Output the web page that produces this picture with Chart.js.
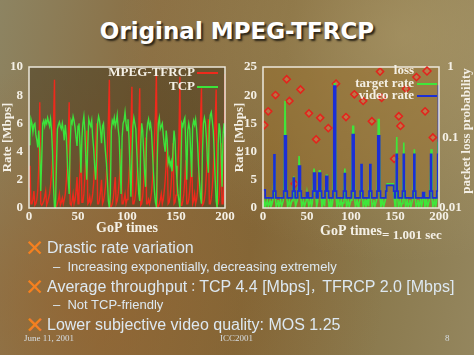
<!DOCTYPE html>
<html>
<head>
<meta charset="utf-8">
<script src="https://cdn.jsdelivr.net/npm/chart.js@4"></script>
<style>
  html, body { margin: 0; padding: 0; }
  body { width: 474px; height: 355px; overflow: hidden; }
  .slide {
    position: relative; width: 474px; height: 355px; overflow: hidden;
    background:
      radial-gradient(ellipse at 15% 85%, rgba(150,95,40,0.55), rgba(150,95,40,0) 55%),
      radial-gradient(ellipse at 85% 10%, rgba(190,170,120,0.45), rgba(190,170,120,0) 50%),
      linear-gradient(100deg, #8d8462 0%, #8a6e42 30%, #80683a 55%, #8b7a4e 80%, #94865e 100%);
    font-family: "Liberation Sans", Arial, "Noto Sans CJK JP", sans-serif;
  }
  canvas { position: absolute; }
  .title {
    position: absolute; left: 0; width: 474px; top: 18px; text-align: center;
    font-family: "DejaVu Sans", sans-serif; font-weight: bold; font-size: 23px;
    color: #ffffff; text-shadow: 2px 2px 2px #2a2418;
  }
  .t { position: absolute; white-space: nowrap; color: #dde8f1; line-height: 1; }
  .x { position: absolute; color: #f5801f; font-family: "DejaVu Sans", sans-serif; font-size: 23px; line-height: 1; }
  .b1 { font-size: 16px; }
  .b2 { font-size: 13px; }
  .cj { font-size: 12px; }
  .foot { position: absolute; font-family: "Liberation Serif", serif; font-size: 9px; color: #d6dde2; line-height: 1; }
  .sec { position: absolute; font-family: "Liberation Serif", serif; font-weight: bold; font-size: 13px; color: #f4f0e6; line-height: 1; }
</style>
</head>
<body>
<div class="slide">
  <div class="title">Original MPEG-TFRCP</div>
  <canvas id="left" width="238" height="190" style="left:0px;top:50px;width:238px;height:190px"></canvas>
  <canvas id="right" width="242" height="190" style="left:232px;top:50px;width:242px;height:190px"></canvas>
  <div class="sec" style="left:382px;top:228px">= 1.001 sec</div>

  <div class="x" style="left:25px;top:237px">✕</div>
  <div class="t b1" style="left:47px;top:240px">Drastic rate variation</div>
  <div class="t b2" style="left:53px;top:260px">–&nbsp; Increasing exponentially, decreasing extremely</div>
  <div class="x" style="left:25px;top:276px">✕</div>
  <div class="t b1" style="left:47px;top:279px">Average throughput<span class="cj">：</span>TCP 4.4 [Mbps]<span class="cj">，</span>TFRCP 2.0 [Mbps]</div>
  <div class="t b2" style="left:53px;top:298px">–&nbsp; Not TCP-friendly</div>
  <div class="x" style="left:25px;top:314px">✕</div>
  <div class="t b1" style="left:47px;top:317px">Lower subjective video quality: MOS 1.25</div>

  <div class="foot" style="left:24px;top:334px">June 11, 2001</div>
  <div class="foot" style="left:220px;top:334px">ICC2001</div>
  <div class="foot" style="left:445px;top:334px">8</div>
</div>
<script>
// left plot: rate per GoP (0..200)
const tfrcpRate = [
  1.5, 3.0, 0.3, 0.3, 0.6, 1.2, 0.2, 0.3, 0.6, 1.3, 3.0, 7.5, 0.3, 0.2, 0.3, 0.5, 0.8, 1.2, 0.2, 0.4,
  0.7, 1.0, 1.6, 2.4, 3.6, 5.8, 9.1, 0.1, 0.1, 0.3, 0.6, 1.0, 0.2, 0.4, 0.7, 0.3, 0.6, 1.0, 1.8, 3.0,
  4.8, 7.5, 0.3, 0.2, 0.5, 1.0, 0.3, 0.6, 1.2, 2.2, 0.3, 1.0, 2.5, 4.5, 0.4, 0.4, 1.0, 2.2, 3.5, 5.5,
  0.3, 0.4, 0.8, 0.3, 0.5, 1.0, 1.8, 3.0, 4.5, 6.0, 0.3, 0.3, 0.6, 1.2, 2.0, 0.3, 0.5, 0.9, 1.5, 2.5,
  4.0, 6.2, 9.1, 0.1, 0.1, 0.3, 0.7, 1.4, 2.2, 0.3, 0.5, 1.0, 1.8, 3.0, 4.2, 0.3, 0.3, 0.6, 1.0, 0.3,
  0.6, 1.2, 2.2, 3.5, 5.5, 8.6, 0.3, 0.3, 0.6, 1.2, 2.2, 3.6, 5.6, 8.5, 0.2, 0.3, 0.8, 1.8, 3.2, 5.0,
  0.3, 0.3, 0.6, 0.3, 0.6, 1.1, 2.0, 3.2, 4.8, 6.6, 9.5, 0.1, 0.1, 0.3, 0.6, 1.0, 0.3, 0.6, 1.2, 2.0,
  3.2, 4.6, 0.3, 0.4, 0.8, 1.6, 2.8, 4.6, 0.3, 0.4, 0.9, 1.8, 3.0, 5.0, 9.3, 0.2, 0.2, 0.5, 1.0, 2.0,
  3.4, 0.3, 0.3, 0.6, 1.2, 2.2, 3.8, 0.3, 0.5, 1.0, 0.3, 0.6, 1.2, 2.4, 4.2, 6.2, 8.5, 0.2, 0.3, 0.6,
  1.2, 2.4, 3.8, 6.3, 0.3, 0.3, 0.7, 1.4, 2.6, 4.4, 6.2, 8.4, 0.2, 0.3, 0.8, 1.8, 4.6, 0.3, 0.3, 1.5,
  9.5
];
const tcpRate = [
  4.5, 5.0, 6.3, 6.0, 5.4, 5.9, 6.0, 5.2, 4.8, 4.3, 5.5, 4.0, 1.2, 3.5, 6.0, 6.2, 5.8, 6.2, 6.0, 6.4,
  6.1, 5.8, 6.3, 5.5, 4.0, 1.5, 0.1, 0.0, 3.0, 5.6, 5.9, 6.1, 5.8, 5.6, 6.0, 5.5, 4.8, 5.9, 5.2, 3.5,
  2.0, 1.0, 4.5, 6.2, 6.0, 6.5, 6.2, 5.7, 5.0, 4.4, 5.8, 6.0, 4.5, 2.5, 5.0, 6.0, 6.5, 5.5, 3.5, 2.0,
  4.5, 6.3, 6.0, 5.8, 6.2, 5.0, 4.2, 3.0, 2.0, 3.5, 6.0, 6.5, 6.2, 5.5, 4.6, 5.8, 6.0, 5.0, 4.0, 3.2,
  2.0, 0.5, 0.0, 1.0, 5.5, 6.2, 6.0, 6.4, 5.8, 6.1, 6.6, 5.6, 5.0, 3.0, 1.0, 5.0, 6.0, 6.2, 6.8, 6.0,
  5.5, 6.3, 5.0, 3.0, 0.8, 3.5, 5.8, 6.4, 6.0, 5.6, 4.0, 2.5, 1.0, 0.5, 4.5, 6.0, 5.5, 4.0, 2.5, 1.5,
  5.2, 6.0, 6.3, 5.7, 6.0, 5.4, 4.0, 2.5, 1.2, 0.4, 0.1, 3.8, 6.0, 6.4, 5.6, 5.8, 6.0, 5.2, 4.5, 4.0,
  5.5, 4.8, 3.2, 3.5, 3.0, 3.3, 2.6, 4.2, 5.5, 4.8, 3.0, 2.0, 1.0, 0.5, 0.0, 3.0, 6.0, 5.8, 6.2, 6.4,
  4.5, 2.0, 5.5, 6.0, 5.6, 4.0, 2.2, 5.8, 6.2, 5.9, 6.3, 5.6, 4.6, 3.0, 1.8, 0.8, 0.3, 4.0, 6.0, 6.4,
  6.0, 5.0, 3.5, 2.5, 5.8, 6.6, 6.8, 6.2, 5.5, 4.0, 2.0, 0.5, 0.0, 4.5, 6.0, 5.5, 4.0, 1.5, 5.2, 6.0,
  5.0
];
const leftXTicks = [0, 50, 100, 150, 200];
const leftYTicks = [0, 2, 4, 6, 8, 10];

// right plot: target / video rate per GoP (0..200), loss probability points
const targetRate = [
  1.0, 0.3, 1.2, 0.3, 0.8, 1.4, 0.2, 0.7, 1.3, 0.2, 0.6, 1.2, 3.0, 9.4, 2.0, 0.2, 0.8, 1.4, 0.2, 0.9,
  1.5, 0.2, 0.7, 1.3, 3.0, 19.0, 19.0, 2.0, 0.2, 0.8, 1.4, 0.2, 0.8, 1.3, 3.0, 5.6, 2.0, 0.3, 0.9, 1.4,
  3.0, 9.2, 9.2, 2.0, 0.2, 0.8, 1.4, 0.2, 0.7, 1.3, 2.7, 2.7, 0.3, 0.9, 1.5, 0.2, 0.8, 3.0, 7.0, 7.0,
  2.0, 0.3, 1.0, 3.0, 6.6, 6.6, 2.0, 0.2, 0.8, 1.4, 0.3, 3.0, 5.8, 5.8, 2.0, 0.2, 0.8, 1.4, 0.2, 0.9,
  3.0, 22.0, 22.0, 2.0, 0.2, 0.8, 1.4, 0.2, 0.8, 1.4, 0.2, 0.9, 3.0, 7.0, 2.0, 0.2, 0.8, 1.4, 0.2, 0.8,
  1.4, 3.0, 14.5, 14.5, 2.0, 0.2, 0.8, 1.4, 0.2, 0.8, 1.4, 3.0, 7.7, 2.0, 0.2, 0.8, 1.4, 0.2, 0.8, 1.4,
  0.3, 3.0, 7.7, 2.0, 0.2, 0.8, 1.4, 0.2, 0.8, 1.4, 3.0, 15.7, 15.7, 2.0, 0.2, 0.8, 1.4, 0.2, 0.8, 1.4,
  3.0, 4.3, 4.3, 4.3, 4.3, 4.3, 4.3, 4.3, 4.3, 2.0, 0.3, 3.0, 12.6, 2.0, 0.2, 0.8, 1.4, 0.2, 0.8, 3.0,
  11.6, 2.0, 0.2, 0.8, 1.4, 0.2, 0.8, 1.4, 0.2, 0.8, 1.4, 3.0, 10.4, 2.0, 0.2, 0.8, 1.4, 0.2, 0.8, 1.4,
  0.2, 0.8, 2.7, 2.7, 0.2, 0.8, 1.4, 0.2, 0.8, 1.4, 3.0, 10.4, 2.0, 0.2, 0.8, 1.4, 0.2, 0.8, 3.0, 11.6,
  11.6
];
const videoRate = [
  3.2, 3.2, 3.2, 1.8, 1.8, 1.8, 1.8, 1.8, 1.8, 1.8, 1.8, 1.8, 3.0, 9.4, 3.0, 1.8, 1.8, 1.8, 1.8, 1.8,
  1.8, 1.8, 1.8, 1.8, 3.0, 12.8, 12.8, 3.0, 1.8, 1.8, 1.8, 1.8, 1.8, 1.8, 3.0, 5.3, 3.0, 1.8, 1.8, 1.8,
  3.0, 7.4, 7.4, 3.0, 1.8, 1.8, 1.8, 1.8, 1.8, 1.8, 2.7, 2.7, 1.8, 1.8, 1.8, 1.8, 1.8, 3.0, 6.2, 6.2,
  3.0, 1.8, 1.8, 3.0, 6.2, 6.2, 3.0, 1.8, 1.8, 1.8, 1.8, 3.0, 5.6, 5.6, 3.0, 1.8, 1.8, 1.8, 1.8, 1.8,
  3.0, 21.6, 21.6, 3.0, 1.8, 1.8, 1.8, 1.8, 1.8, 1.8, 1.8, 1.8, 3.0, 6.1, 3.0, 1.8, 1.8, 1.8, 1.8, 1.8,
  1.8, 3.0, 13.0, 13.0, 3.0, 1.8, 1.8, 1.8, 1.8, 1.8, 1.8, 3.0, 7.7, 3.0, 1.8, 1.8, 1.8, 1.8, 1.8, 1.8,
  1.8, 3.0, 7.7, 3.0, 1.8, 1.8, 1.8, 1.8, 1.8, 1.8, 3.0, 12.8, 12.8, 3.0, 1.8, 1.8, 1.8, 1.8, 1.8, 1.8,
  3.0, 4.0, 4.0, 4.0, 4.0, 4.0, 4.0, 4.0, 4.0, 3.0, 1.8, 3.0, 9.5, 3.0, 1.8, 1.8, 1.8, 1.8, 1.8, 3.0,
  9.5, 3.0, 1.8, 1.8, 1.8, 1.8, 1.8, 1.8, 1.8, 1.8, 1.8, 3.0, 9.5, 3.0, 1.8, 1.8, 1.8, 1.8, 1.8, 1.8,
  1.8, 1.8, 2.7, 2.7, 1.8, 1.8, 1.8, 1.8, 1.8, 1.8, 3.0, 9.5, 3.0, 1.8, 1.8, 1.8, 1.8, 1.8, 3.0, 9.5,
  21.6
];
const lossGop  = [1.5, 5.9, 14.2, 26.9, 30, 36, 42.6, 52.2, 60.4, 65, 74.2, 83, 94.3, 103.8, 113.8, 123.7, 133, 134.8, 149, 154.3, 156.2, 162.6, 174.4, 184.2, 193];
const lossProb = [0.15, 0.235, 0.40, 0.67, 0.33, 0.022, 0.48, 0.22, 0.094, 0.19, 0.136, 0.58, 0.195, 0.41, 0.33, 0.17, 0.86, 0.365, 0.05, 0.2, 0.146, 0.49, 0.72, 0.235, 0.1];
const rightXTicks = [0, 50, 100, 150, 200];
const rateTicks = [0, 5, 10, 15, 20, 25];
const probTicks = [0.01, 0.1, 1];

const labelColor = '#f4f0e6';
const serif = 'Liberation Serif, Times New Roman, serif';
const tickFont = { family: serif, size: 13, weight: 'bold' };
const noGrid = { display: false, drawTicks: false };

// plot box: fill behind, white frame on top
const framePlugin = {
  id: 'frame',
  beforeDatasetsDraw(chart, args, opts) {
    const a = chart.chartArea, ctx = chart.ctx;
    ctx.save();
    ctx.fillStyle = opts.fill;
    ctx.fillRect(a.left, a.top, a.right - a.left, a.bottom - a.top);
    ctx.restore();
  },
  afterDraw(chart) {
    const a = chart.chartArea, ctx = chart.ctx;
    ctx.save();
    ctx.strokeStyle = '#ece8dc';
    ctx.lineWidth = 1.5;
    ctx.strokeRect(a.left, a.top, a.right - a.left, a.bottom - a.top);
    ctx.restore();
  }
};

// legend inside the plot: text right-aligned, sample to the right
const keyPlugin = {
  id: 'key',
  afterDraw(chart, args, opts) {
    const ctx = chart.ctx;
    ctx.save();
    ctx.font = 'bold 13px ' + serif;
    ctx.textAlign = 'right';
    ctx.textBaseline = 'middle';
    opts.rows.forEach(r => {
      const ds = chart.data.datasets[r.ds];
      ctx.fillStyle = labelColor;
      ctx.fillText(ds.label, opts.textRight, r.y);
      if (r.marker) {
        const cx = (opts.x0 + opts.x1) / 2;
        ctx.beginPath();
        ctx.moveTo(cx, r.y - 4); ctx.lineTo(cx + 4, r.y); ctx.lineTo(cx, r.y + 4); ctx.lineTo(cx - 4, r.y); ctx.closePath();
        ctx.fillStyle = ds.backgroundColor; ctx.fill();
        ctx.strokeStyle = ds.borderColor; ctx.lineWidth = 1.5; ctx.stroke();
      } else {
        ctx.strokeStyle = ds.borderColor;
        ctx.lineWidth = 2;
        ctx.beginPath(); ctx.moveTo(opts.x0, r.y); ctx.lineTo(opts.x1, r.y); ctx.stroke();
      }
    });
    ctx.restore();
  }
};

// right axis title, reading bottom to top
const sideTitlePlugin = {
  id: 'sideTitle',
  afterDraw(chart, args, opts) {
    if (!opts.text) return;
    const ctx = chart.ctx;
    ctx.save();
    ctx.translate(opts.x, opts.y);
    ctx.rotate(-Math.PI / 2);
    ctx.font = 'bold 13px ' + serif;
    ctx.fillStyle = labelColor;
    ctx.textAlign = 'center';
    ctx.textBaseline = 'middle';
    ctx.fillText(opts.text, 0, 0);
    ctx.restore();
  }
};

function fixedTicks(list) {
  return scale => { scale.ticks = list.map(v => ({ value: v })); };
}

new Chart(document.getElementById('left'), {
  type: 'line',
  data: {
    datasets: [
      { label: 'MPEG-TFRCP', data: tfrcpRate.map((v, i) => ({ x: i, y: v })), borderColor: '#ee2a1c', borderWidth: 1.4, pointRadius: 0, order: 1 },
      { label: 'TCP', data: tcpRate.map((v, i) => ({ x: i, y: v })), borderColor: '#3ce33a', borderWidth: 1.4, pointRadius: 0, order: 0 }
    ]
  },
  options: {
    responsive: false, animation: false,
    layout: { padding: { top: 17, right: 13, left: 0, bottom: 0 } },
    plugins: {
      legend: { display: false }, tooltip: { enabled: false },
      frame: { fill: 'rgba(52,40,16,0.42)' },
      key: { textRight: 195, x0: 197, x1: 218, rows: [{ ds: 0, y: 23 }, { ds: 1, y: 37 }] }
    },
    scales: {
      x: {
        type: 'linear', min: 0, max: 200,
        grid: noGrid, border: { display: false },
        afterBuildTicks: fixedTicks(leftXTicks),
        afterFit: s => { s.height = 32; },
        ticks: { color: labelColor, font: tickFont, padding: 1, maxRotation: 0, autoSkip: false },
        title: { display: true, text: 'GoP times', color: labelColor, font: { family: serif, size: 14, weight: 'bold' }, padding: { top: 0, bottom: 3 } }
      },
      y: {
        min: 0, max: 10,
        grid: noGrid, border: { display: false },
        afterBuildTicks: fixedTicks(leftYTicks),
        afterFit: s => { s.width = 29; },
        ticks: { color: labelColor, font: tickFont, padding: 6 },
        title: { display: true, text: 'Rate [Mbps]', color: labelColor, font: { family: serif, size: 13, weight: 'bold' }, padding: 0 }
      }
    }
  },
  plugins: [framePlugin, keyPlugin]
});

new Chart(document.getElementById('right'), {
  type: 'line',
  data: {
    datasets: [
      { label: 'loss', data: lossGop.map((g, i) => ({ x: g, y: lossProb[i] })), yAxisID: 'y2', showLine: false,
        pointStyle: 'rectRot', pointRadius: 3.6, borderColor: '#e3231d', backgroundColor: 'rgba(214,120,80,0.55)', pointBorderWidth: 1.5, order: 2 },
      { label: 'target rate', data: targetRate.map((v, i) => ({ x: i, y: v })), yAxisID: 'y', borderColor: '#3fe63a', borderWidth: 1.6, pointRadius: 0, order: 1 },
      { label: 'video rate', data: videoRate.map((v, i) => ({ x: i, y: v })), yAxisID: 'y', borderColor: '#1c2fd6', borderWidth: 1.8, pointRadius: 0, stepped: 'middle', order: 0 }
    ]
  },
  options: {
    responsive: false, animation: false,
    layout: { padding: { top: 17, right: 0, left: 0, bottom: 0 } },
    plugins: {
      legend: { display: false }, tooltip: { enabled: false },
      frame: { fill: 'rgba(150,108,40,0.45)' },
      key: { textRight: 182, x0: 185, x1: 205, rows: [{ ds: 0, y: 21, marker: true }, { ds: 1, y: 34 }, { ds: 2, y: 46 }] },
      sideTitle: { text: 'packet loss probability', x: 235, y: 81 }
    },
    scales: {
      x: {
        type: 'linear', min: 0, max: 200,
        grid: noGrid, border: { display: false },
        afterBuildTicks: fixedTicks(rightXTicks),
        afterFit: s => { s.height = 32; },
        ticks: { color: labelColor, font: tickFont, padding: 1, maxRotation: 0, autoSkip: false },
        title: { display: true, text: 'GoP times', color: labelColor, font: { family: serif, size: 14, weight: 'bold' }, padding: { top: 0, bottom: 0 } }
      },
      y: {
        min: 0, max: 25, position: 'left',
        grid: noGrid, border: { display: false },
        afterBuildTicks: fixedTicks(rateTicks),
        afterFit: s => { s.width = 31; },
        ticks: { color: labelColor, font: tickFont, padding: 6 },
        title: { display: true, text: 'Rate [Mbps]', color: labelColor, font: { family: serif, size: 13, weight: 'bold' }, padding: 0 }
      },
      y2: {
        type: 'logarithmic', min: 0.01, max: 1, position: 'right',
        grid: noGrid, border: { display: false },
        afterBuildTicks: fixedTicks(probTicks),
        afterFit: s => { s.width = 35; },
        ticks: { color: labelColor, font: tickFont, padding: 0, crossAlign: 'center', callback: v => String(v) }
      }
    }
  },
  plugins: [framePlugin, keyPlugin, sideTitlePlugin]
});
</script>
</body>
</html>
